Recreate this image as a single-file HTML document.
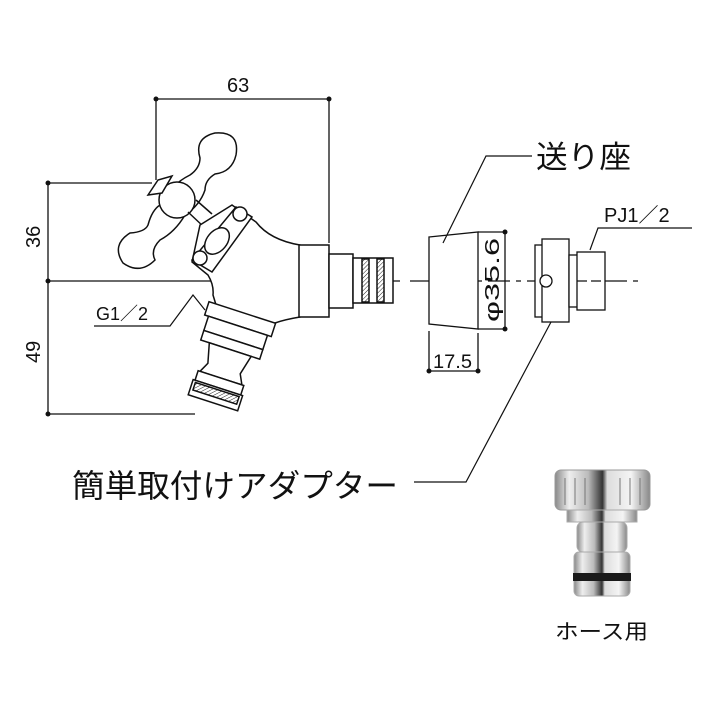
<!DOCTYPE html>
<html><head><meta charset="utf-8"><style>
html,body{margin:0;padding:0;background:#fff;}
svg{display:block;}
text{font-family:"Liberation Sans","Noto Sans CJK JP",sans-serif;fill:#111;}
</style></head><body>
<svg width="720" height="720" viewBox="0 0 720 720" xmlns="http://www.w3.org/2000/svg">
<defs>
<pattern id="hatch" width="3" height="3" patternUnits="userSpaceOnUse" patternTransform="rotate(45)">
<line x1="0" y1="0" x2="0" y2="3" stroke="#222" stroke-width="1"/></pattern>
<linearGradient id="chrome" x1="0" x2="1" y1="0" y2="0">
<stop offset="0" stop-color="#888"/><stop offset="0.15" stop-color="#eee"/><stop offset="0.35" stop-color="#bbb"/><stop offset="0.5" stop-color="#333"/><stop offset="0.55" stop-color="#ddd"/><stop offset="0.8" stop-color="#f4f4f4"/><stop offset="1" stop-color="#888"/></linearGradient>
</defs>
<g stroke="#111" stroke-width="1.3" fill="none">
<line x1="156" y1="99" x2="329" y2="99"/>
<line x1="156" y1="99" x2="156" y2="180"/>
<line x1="329" y1="99" x2="329" y2="243"/>
<line x1="48" y1="183" x2="48" y2="414"/>
<line x1="48" y1="183" x2="152" y2="183"/>
<line x1="48" y1="414" x2="195" y2="414"/>
<line x1="48" y1="281" x2="214" y2="281"/>
<line x1="214" y1="281" x2="400" y2="281" stroke-dasharray="28,5,4,5"/>
<line x1="410" y1="281" x2="640" y2="281" stroke-dasharray="22,6,5,6"/>
</g>
<g fill="#111">
<circle cx="156" cy="99" r="2.5"/><circle cx="329" cy="99" r="2.5"/>
<circle cx="48" cy="183" r="2.5"/><circle cx="48" cy="281" r="2.5"/><circle cx="48" cy="414" r="2.5"/>
<circle cx="505" cy="232" r="2.5"/><circle cx="505" cy="329" r="2.5"/>
<circle cx="429" cy="371" r="2.5"/><circle cx="478" cy="371" r="2.5"/>
</g>
<g stroke="#111" stroke-width="1.5" fill="#fff">
<path d="M160 205 Q170 185 190 175 Q200 168 200 158 Q194 138 215 133 Q240 131 236 155 Q232 172 215 174 Q205 180 205 190 Q200 205 185 215 Q175 232 160 240 Q150 250 155 260 Q140 275 123 263 Q111 245 130 233 Q145 232 148 225 Q152 210 160 205Z"/>
<circle cx="177" cy="200" r="18"/>
<path d="M148 195 L158 180 L172 176 L162 193 Z"/>
<line x1="188" y1="212" x2="205" y2="228"/>
<line x1="196" y1="200" x2="212" y2="214"/>
<path d="M200 225 L232 205 L256 222 Q270 240 300 245 L300 317 Q270 322 263 330 L220 318 Q216 305 213 295 Q214 285 208 275 L192 262 Z"/>
<path d="M192 260 L236 207 L252 217 L212 272 Z"/>
<ellipse cx="217" cy="241" rx="10" ry="15" transform="rotate(40 217 241)"/>
<circle cx="240" cy="214" r="7"/>
<circle cx="200" cy="258" r="7"/>
<rect x="299" y="245" width="30" height="72"/>
<rect x="329" y="254" width="24" height="54"/>
<rect x="353" y="258" width="40" height="45"/>
<rect x="362" y="259" width="7" height="43" fill="url(#hatch)"/>
<rect x="377" y="259" width="7" height="43" fill="url(#hatch)"/>
<g transform="rotate(18 230 360)">
<rect x="192" y="311" width="70" height="14"/>
<rect x="196" y="325" width="62" height="15"/>
<rect x="196" y="340" width="62" height="10"/>
<path d="M205 350 L249 350 L244 370 L249 380 L205 380 L210 370 Z"/>
<rect x="203" y="380" width="48" height="10"/>
<rect x="201" y="390" width="52" height="16"/>
<rect x="204" y="392" width="46" height="8" fill="url(#hatch)"/>
</g>
</g>
<text x="96" y="320" font-size="18">G1／2</text>
<polyline points="94,326 170,326 193,295 205,310" stroke="#111" stroke-width="1.2" fill="none"/>
<text x="227" y="92" font-size="20">63</text>
<text transform="translate(40,248) rotate(-90)" font-size="20">36</text>
<text transform="translate(40,363) rotate(-90)" font-size="20">49</text>
<g stroke="#111" stroke-width="1.3" fill="#fff">
<path d="M429 237 L478 232 L478 329 L429 324 Z"/>
<line x1="478" y1="232" x2="505" y2="232"/><line x1="478" y1="329" x2="505" y2="329"/>
<line x1="505" y1="232" x2="505" y2="329"/>
<line x1="429" y1="331" x2="429" y2="371"/><line x1="478" y1="333" x2="478" y2="371"/>
<line x1="429" y1="371" x2="478" y2="371"/>
<rect x="535" y="245" width="8" height="72"/>
<rect x="542" y="239" width="27" height="83"/>
<rect x="569" y="255" width="9" height="52"/>
<rect x="577" y="252" width="28" height="58"/>
<line x1="577" y1="281" x2="605" y2="281" stroke-dasharray="10,4"/>
<circle cx="546" cy="281" r="6"/>
</g>
<text x="433" y="368" font-size="19" textLength="39" lengthAdjust="spacingAndGlyphs">17.5</text>
<text transform="translate(499,322) rotate(-90)" font-size="20" textLength="84" lengthAdjust="spacingAndGlyphs">φ35.6</text>
<g stroke="#111" stroke-width="1.2" fill="none">
<polyline points="443,243 486,156 532,156"/>
<polyline points="590,250 598,228 692,228"/>
<polyline points="414,482 466,482 551,322"/>
</g>
<text x="536" y="168" font-size="31" textLength="95" lengthAdjust="spacingAndGlyphs">送り座</text>
<text x="604" y="222" font-size="20">PJ1／2</text>
<text x="72" y="497" font-size="32" textLength="326" lengthAdjust="spacingAndGlyphs">簡単取付けアダプター</text>
<g>
<rect x="555" y="470" width="95" height="40" rx="6" fill="url(#chrome)" stroke="#999"/>
<g stroke="#777" stroke-width="1">
<line x1="565" y1="478" x2="565" y2="505"/><line x1="575" y1="478" x2="575" y2="505"/><line x1="585" y1="478" x2="585" y2="505"/><line x1="620" y1="478" x2="620" y2="505"/><line x1="630" y1="478" x2="630" y2="505"/><line x1="640" y1="478" x2="640" y2="505"/></g>
<rect x="567" y="510" width="70" height="12" fill="url(#chrome)" stroke="#aaa"/>
<rect x="577" y="522" width="50" height="30" rx="6" fill="url(#chrome)" stroke="#aaa"/>
<rect x="574" y="552" width="56" height="44" rx="5" fill="url(#chrome)" stroke="#aaa"/>
<rect x="573" y="573" width="58" height="8" fill="#1a1a1a"/>
</g>
<text x="555" y="639" font-size="21" textLength="93" lengthAdjust="spacingAndGlyphs">ホース用</text>
</svg>
</body></html>
